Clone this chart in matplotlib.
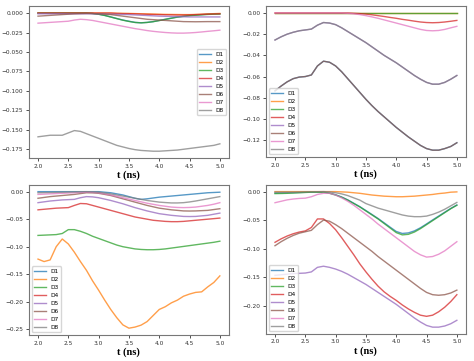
import numpy as np
import matplotlib
matplotlib.use("Agg")
import matplotlib.pyplot as plt

t = [2.0, 2.1, 2.2, 2.3, 2.4, 2.5, 2.6, 2.7, 2.8, 2.9, 3.0, 3.1, 3.2, 3.3, 3.4, 3.5,
     3.6, 3.7, 3.8, 3.9, 4.0, 4.1, 4.2, 4.3, 4.4, 4.5, 4.6, 4.7, 4.8, 4.9, 5.0]
labels = ["D1", "D2", "D3", "D4", "D5", "D6", "D7", "D8"]

# ---------------- panel 1 (top left) ----------------
p1_D1 = [0, 0, 0, 0, 0, 0, 0, 0, 0, -0.0005, -0.0015, -0.003, -0.005, -0.007, -0.009, -0.0105,
         -0.012, -0.0125, -0.012, -0.011, -0.0095, -0.008, -0.0065, -0.005, -0.004, -0.003,
         -0.0025, -0.002, -0.0015, -0.001, -0.001]
p1_D2 = [0, 0, 0, 0, 0, 0, 0, 0, 0, 0, 0, 0, 0, -0.0002, -0.0004, -0.0005, -0.0007, -0.0009,
         -0.0011, -0.0013, -0.0015, -0.0017, -0.0018, -0.0019, -0.002, -0.002, -0.0018, -0.0015,
         -0.0011, -0.0008, -0.0005]
p1_D3 = [0, 0, 0, 0, 0, 0, 0, 0, 0, -0.0005, -0.0016, -0.0031, -0.0051, -0.0072, -0.0092, -0.0108,
         -0.0121, -0.0126, -0.0121, -0.0111, -0.0097, -0.0082, -0.0067, -0.0053, -0.0043, -0.0034,
         -0.0028, -0.0023, -0.0018, -0.0015, -0.0013]
p1_D4 = [0, 0, 0, 0, 0, 0, 0, 0, 0, 0, 0, 0, 0, -0.0005, -0.0007, -0.0008, -0.001, -0.0013,
         -0.0016, -0.0018, -0.002, -0.0022, -0.0023, -0.0025, -0.0025, -0.0023, -0.002, -0.0017,
         -0.0014, -0.0012, -0.001]
p1_D5 = [-0.001, -0.001, -0.001, -0.001, -0.001, -0.001, -0.001, -0.001, -0.001, -0.001, -0.001,
         -0.0012, -0.0014, -0.0016, -0.0018, -0.002, -0.0024, -0.0028, -0.0032, -0.0036, -0.004,
         -0.0042, -0.0044, -0.0046, -0.0048, -0.005, -0.005, -0.005, -0.005, -0.005, -0.005]
p1_D6 = [-0.004, -0.0035, -0.003, -0.0025, -0.002, -0.0015, -0.001, -0.0007, -0.0005, -0.0007,
         -0.001, -0.0015, -0.002, -0.003, -0.004, -0.005, -0.006, -0.007, -0.008, -0.0085, -0.009,
         -0.0095, -0.01, -0.0105, -0.011, -0.0111, -0.0112, -0.0111, -0.011, -0.011, -0.011]
p1_D7 = [-0.013, -0.0125, -0.012, -0.0115, -0.011, -0.0105, -0.009, -0.008, -0.0085, -0.0095,
         -0.011, -0.0125, -0.014, -0.0155, -0.017, -0.0185, -0.02, -0.0212, -0.0225, -0.0235,
         -0.0243, -0.025, -0.0255, -0.0258, -0.0258, -0.0255, -0.025, -0.0243, -0.0235, -0.0228,
         -0.022]
p1_D8 = [-0.159, -0.158, -0.157, -0.157, -0.157, -0.154, -0.151, -0.152, -0.155, -0.158, -0.161,
         -0.164, -0.167, -0.17, -0.172, -0.174, -0.1755, -0.1765, -0.177, -0.1775, -0.1775,
         -0.177, -0.1765, -0.176, -0.175, -0.174, -0.173, -0.172, -0.171, -0.17, -0.168]

# ---------------- panel 2 (top right) ----------------
p2_D1 = [-0.0735, -0.069, -0.065, -0.062, -0.0605, -0.06, -0.0585, -0.05, -0.0455, -0.0465, -0.05,
         -0.0555, -0.062, -0.0685, -0.075, -0.0815, -0.0875, -0.093, -0.098, -0.103, -0.108,
         -0.1125, -0.117, -0.121, -0.125, -0.128, -0.1295, -0.1295, -0.128, -0.126, -0.1225]
p2_D2 = [0.0] * 31
p2_D3 = [0.0] * 31
p2_D4 = [0, 0, 0, 0, 0, 0, 0, 0, 0, 0, 0, 0, 0, -0.0003, -0.0006, -0.001, -0.0017, -0.0025,
         -0.0033, -0.0042, -0.005, -0.006, -0.0068, -0.0077, -0.0085, -0.009, -0.0092, -0.009,
         -0.0085, -0.0078, -0.007]
p2_D5 = [-0.0255, -0.0225, -0.02, -0.0182, -0.0168, -0.016, -0.0152, -0.0115, -0.009, -0.0095,
         -0.011, -0.014, -0.0175, -0.021, -0.0245, -0.028, -0.032, -0.036, -0.04, -0.0435, -0.047,
         -0.051, -0.055, -0.059, -0.0625, -0.0655, -0.0672, -0.0672, -0.0655, -0.0625, -0.059]
p2_D6 = [-0.0735, -0.069, -0.065, -0.062, -0.0605, -0.06, -0.0585, -0.05, -0.0455, -0.0465, -0.05,
         -0.0555, -0.062, -0.0685, -0.075, -0.0815, -0.0875, -0.093, -0.098, -0.103, -0.108,
         -0.1125, -0.117, -0.121, -0.125, -0.128, -0.1295, -0.1295, -0.128, -0.126, -0.1225]
p2_D7 = [0, 0, 0, 0, 0, 0, 0, 0, 0, 0, 0, 0, -0.0003, -0.0008, -0.0015, -0.0025, -0.0037, -0.005,
         -0.0065, -0.008, -0.0095, -0.011, -0.0125, -0.014, -0.0155, -0.0165, -0.0168, -0.0165,
         -0.0155, -0.014, -0.0126]
p2_D8 = [-0.0255, -0.0225, -0.02, -0.0182, -0.0168, -0.016, -0.0152, -0.0115, -0.009, -0.0095,
         -0.011, -0.014, -0.0175, -0.021, -0.0245, -0.028, -0.032, -0.036, -0.04, -0.0435, -0.047,
         -0.051, -0.055, -0.059, -0.0625, -0.0655, -0.0672, -0.0672, -0.0655, -0.0625, -0.059]

# ---------------- panel 3 (bottom left) ----------------
p3_D1 = [0, 0, 0, 0, 0, 0, 0, 0, 0, 0, 0, -0.001, -0.002, -0.004, -0.006, -0.009, -0.012, -0.014,
         -0.013, -0.0115, -0.01, -0.009, -0.008, -0.007, -0.006, -0.005, -0.004, -0.003, -0.002,
         -0.0015, -0.001]
p3_D2 = [-0.1225, -0.127, -0.124, -0.1, -0.086, -0.095, -0.11, -0.127, -0.143, -0.162, -0.179,
         -0.197, -0.214, -0.229, -0.242, -0.248, -0.246, -0.2425, -0.236, -0.225, -0.214, -0.209,
         -0.202, -0.197, -0.19, -0.186, -0.183, -0.182, -0.173, -0.165, -0.153]
p3_D3 = [-0.0795, -0.079, -0.0785, -0.078, -0.076, -0.069, -0.069, -0.072, -0.076, -0.081, -0.085,
         -0.089, -0.093, -0.097, -0.1, -0.102, -0.104, -0.105, -0.1055, -0.1055, -0.105, -0.104,
         -0.1025, -0.101, -0.0995, -0.098, -0.0965, -0.095, -0.0935, -0.092, -0.09]
p3_D4 = [-0.033, -0.032, -0.031, -0.03, -0.0295, -0.029, -0.025, -0.0215, -0.022, -0.025, -0.028,
         -0.031, -0.034, -0.037, -0.04, -0.043, -0.046, -0.048, -0.05, -0.052, -0.053, -0.054,
         -0.0545, -0.0545, -0.054, -0.053, -0.052, -0.051, -0.05, -0.049, -0.048]
p3_D5 = [-0.02, -0.0185, -0.017, -0.016, -0.015, -0.0145, -0.014, -0.011, -0.009, -0.0095, -0.011,
         -0.0135, -0.016, -0.019, -0.022, -0.0255, -0.029, -0.032, -0.035, -0.0375, -0.04, -0.0415,
         -0.043, -0.044, -0.045, -0.0452, -0.045, -0.044, -0.043, -0.041, -0.039]
p3_D6 = [-0.012, -0.0105, -0.009, -0.008, -0.007, -0.006, -0.005, -0.0035, -0.002, -0.0022, -0.003,
         -0.005, -0.007, -0.01, -0.013, -0.016, -0.019, -0.022, -0.025, -0.0275, -0.03, -0.0315,
         -0.033, -0.034, -0.035, -0.0352, -0.035, -0.0345, -0.034, -0.0325, -0.031]
p3_D7 = [-0.005, -0.0045, -0.004, -0.0035, -0.003, -0.0025, -0.002, -0.0015, -0.001, -0.0013,
         -0.002, -0.004, -0.006, -0.0085, -0.011, -0.0135, -0.016, -0.0185, -0.021, -0.023, -0.025,
         -0.0265, -0.028, -0.0287, -0.029, -0.0287, -0.028, -0.0265, -0.025, -0.0228, -0.02]
p3_D8 = [-0.002, -0.00175, -0.0015, -0.00125, -0.001, -0.00075, -0.0005, -0.00025, 0, -0.0004,
         -0.001, -0.0025, -0.004, -0.006, -0.008, -0.01, -0.012, -0.014, -0.016, -0.0175, -0.019,
         -0.0198, -0.0205, -0.0205, -0.02, -0.0187, -0.017, -0.015, -0.013, -0.011, -0.009]

# ---------------- panel 4 (bottom right) ----------------
p4_D1 = [-0.0025, -0.0023, -0.002, -0.0018, -0.0015, -0.0012, -0.001, -0.0008, -0.0008, -0.0025,
         -0.0055, -0.0095, -0.0145, -0.0205, -0.0265, -0.0333, -0.0402, -0.0472, -0.0548, -0.0625,
         -0.07, -0.0735, -0.0725, -0.069, -0.0635, -0.0568, -0.0498, -0.043, -0.0362, -0.0295,
         -0.0235]
p4_D2 = [0, 0, 0, 0, 0, 0, 0, 0, 0, 0, 0, -0.0005, -0.001, -0.002, -0.003, -0.0045, -0.006, -0.007,
         -0.008, -0.0085, -0.009, -0.009, -0.0085, -0.008, -0.007, -0.006, -0.005, -0.0035,
         -0.0025, -0.001, -0.0005]
p4_D3 = [-0.0035, -0.0033, -0.003, -0.0025, -0.002, -0.0015, -0.001, -0.001, -0.001, -0.003,
         -0.006, -0.01, -0.015, -0.021, -0.027, -0.034, -0.041, -0.048, -0.056, -0.064, -0.072,
         -0.076, -0.075, -0.071, -0.065, -0.058, -0.051, -0.044, -0.037, -0.03, -0.024]
p4_D4 = [-0.089, -0.083, -0.078, -0.074, -0.071, -0.069, -0.063, -0.048, -0.048, -0.056, -0.067,
         -0.081, -0.096, -0.111, -0.127, -0.141, -0.154, -0.166, -0.176, -0.184, -0.191, -0.199,
         -0.206, -0.212, -0.217, -0.219, -0.217, -0.211, -0.203, -0.193, -0.181]
p4_D5 = [-0.147, -0.146, -0.145, -0.144, -0.1435, -0.143, -0.141, -0.133, -0.131, -0.133, -0.136,
         -0.14, -0.145, -0.151, -0.157, -0.163, -0.17, -0.177, -0.184, -0.191, -0.198, -0.206,
         -0.214, -0.222, -0.229, -0.235, -0.238, -0.238, -0.236, -0.232, -0.226]
p4_D6 = [-0.095, -0.088, -0.082, -0.077, -0.073, -0.0705, -0.068, -0.058, -0.05, -0.052, -0.058,
         -0.065, -0.073, -0.081, -0.089, -0.097, -0.105, -0.114, -0.122, -0.13, -0.138, -0.146,
         -0.154, -0.162, -0.17, -0.177, -0.181, -0.182, -0.181, -0.178, -0.173]
p4_D7 = [-0.0195, -0.017, -0.0145, -0.013, -0.012, -0.0115, -0.009, -0.005, -0.003, -0.003, -0.006,
         -0.011, -0.017, -0.024, -0.032, -0.04, -0.048, -0.057, -0.065, -0.073, -0.081, -0.089,
         -0.097, -0.105, -0.111, -0.115, -0.114, -0.11, -0.104, -0.096, -0.088]
p4_D8 = [-0.001, -0.001, -0.001, -0.001, -0.0008, -0.0006, -0.0004, -0.0002, 0, -0.0005, -0.002,
         -0.004, -0.007, -0.011, -0.015, -0.021, -0.025, -0.029, -0.032, -0.035, -0.038, -0.041,
         -0.043, -0.044, -0.044, -0.043, -0.04, -0.036, -0.031, -0.025, -0.019]

panels = [
    [p1_D1, p1_D2, p1_D3, p1_D4, p1_D5, p1_D6, p1_D7, p1_D8],
    [p2_D1, p2_D2, p2_D3, p2_D4, p2_D5, p2_D6, p2_D7, p2_D8],
    [p3_D1, p3_D2, p3_D3, p3_D4, p3_D5, p3_D6, p3_D7, p3_D8],
    [p4_D1, p4_D2, p4_D3, p4_D4, p4_D5, p4_D6, p4_D7, p4_D8],
]
positions = [
    [0.061, 0.562, 0.422, 0.421],
    [0.561, 0.565, 0.422, 0.418],
    [0.061, 0.072, 0.422, 0.416],
    [0.561, 0.075, 0.422, 0.413],
]
legend_locs = ["center right", "lower left", "lower left", "lower left"]
colors = plt.rcParams['axes.prop_cycle'].by_key()['color'][:8]

fig = plt.figure(figsize=(4.74, 3.61), dpi=100)
for k in range(4):
    ax = fig.add_axes(positions[k])
    for i, series in enumerate(panels[k]):
        ax.plot(t, series, color=colors[i], lw=1.0, alpha=0.75, label=labels[i])
    ax.tick_params(labelsize=4.2, length=2.5, width=0.6, pad=1.5, colors='#333333')
    for s in ax.spines.values():
        s.set_color('#777777')
        s.set_linewidth(0.8)
    ax.set_xticks([2.0, 2.5, 3.0, 3.5, 4.0, 4.5, 5.0])
    ax.set_xlabel("t (ns)", fontsize=7.5, fontweight='bold', family='Liberation Serif', labelpad=1.5)
    ax.legend(loc=legend_locs[k], fontsize=4.2, handlelength=2.0, labelspacing=0.5,
              borderpad=0.4, framealpha=0.8)

fig.savefig("out.png", dpi=100)
